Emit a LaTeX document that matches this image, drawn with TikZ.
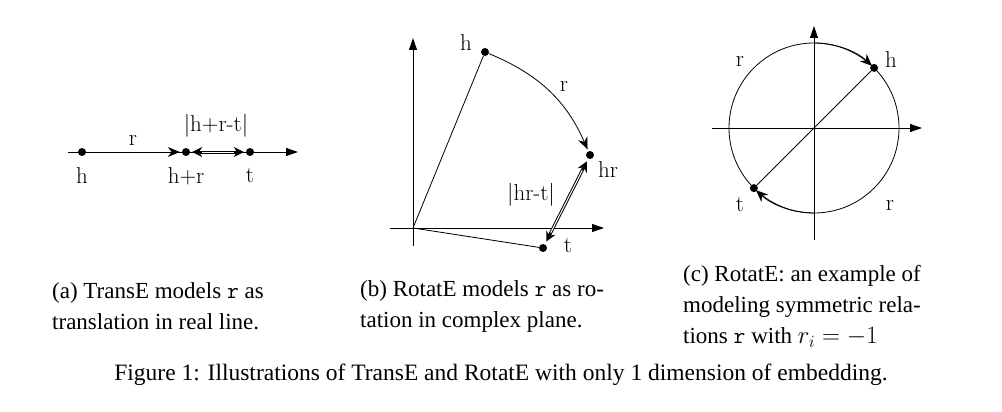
\documentclass[tikz,border=0pt]{standalone}
\usepackage{fontspec}
\newfontfamily\capf{Liberation Serif}
\usetikzlibrary{arrows.meta}
\begin{document}
\begin{tikzpicture}[x=1pt,y=-1pt,
  lab/.style={font=\fontsize{23}{25}\selectfont,inner sep=0pt},
  captxt/.style={font=\capf\fontsize{23}{31}\selectfont,inner sep=0pt,align=left,anchor=north west},
  pt/.style={circle,fill,inner sep=0pt,minimum size=8pt},
  ax/.style={line width=1pt,-{Triangle[length=12pt,width=8pt]}},
  tip/.style={-{Stealth[length=12pt,width=10pt]}}]
\useasboundingbox (0,0) rectangle (1002,412);
% (a)
\coordinate (a0) at (68,152); \coordinate (a1) at (298,152);
\draw[ax] (a0) -- (a1);
\node[pt] (h) at (82,152) {};
\node[pt] (hr) at (186,152) {};
\node[pt] (t) at (250,152) {};
\draw[line width=1pt,tip,shorten >=2pt] (h) -- (hr);
\draw[line width=3pt,{Stealth[length=10pt,width=10pt]}-{Stealth[length=10pt,width=10pt]},shorten <=2pt,shorten >=2pt] (hr) -- (t);
\draw[line width=1pt,white,shorten <=12pt,shorten >=12pt] (hr) -- (t);
\node[lab] at (133,140) {r};
\node[lab] at (216,126) {|h+r-t|};
\node[lab] at (82,176) {h};
\node[lab] at (186,176) {h+r};
\node[lab] at (250,176) {t};
% (b)
\coordinate (o) at (413,228);
\coordinate (by0) at (413,246); \coordinate (by1) at (413,38);
\coordinate (bx0) at (390,228); \coordinate (bx1) at (604,228);
\draw[ax] (by0) -- (by1);
\draw[ax] (bx0) -- (bx1);
\node[pt] (bh) at (485,52) {};
\node[pt] (bhr) at (590,155) {};
\node[pt] (bt) at (543,248) {};
\draw[line width=0.8pt] (o) -- (bh);
\draw[line width=0.8pt] (o) -- (bt);
\draw[line width=0.8pt,tip,shorten >=2pt] (bh) to[bend left=22] (bhr);
\draw[line width=3pt,{Stealth[length=10pt,width=10pt]}-{Stealth[length=10pt,width=10pt]},shorten <=3pt,shorten >=3pt] (bhr) -- (bt);
\draw[line width=1pt,white,shorten <=13pt,shorten >=13pt] (bhr) -- (bt);
\node[lab] at (466,43) {h};
\node[lab] at (564,86) {r};
\node[lab] at (608,170) {hr};
\node[lab] at (531,195) {|hr-t|};
\node[lab] at (568,246) {t};
% (c)
\coordinate (c) at (814,128);
\coordinate (cx0) at (712,128); \coordinate (cx1) at (922,128);
\coordinate (cy0) at (814,240); \coordinate (cy1) at (814,26);
\draw[ax,line width=0.8pt] (cx0) -- (cx1);
\draw[ax,line width=0.8pt] (cy0) -- (cy1);
\draw[line width=0.8pt] (c) circle (85);
\node[pt] (ch) at ([shift={(-45:85)}]c) {};
\node[pt] (ct) at ([shift={(135:85)}]c) {};
\draw[line width=0.8pt] (ch) -- (ct);
\draw[line width=0.8pt,tip] ([shift={(-90:85)}]c) arc[start angle=-90,end angle=-47,radius=85];
\draw[line width=0.8pt,tip] ([shift={(90:85)}]c) arc[start angle=90,end angle=133,radius=85];
\node[lab] at (740,61) {r};
\node[lab] at (891,60) {h};
\node[lab] at (740,205) {t};
\node[lab] at (890,205) {r};
% captions
\node[captxt] (ca) at (52,282) {(a) TransE models \texttt{r} as\\translation in real line.};
\node[captxt] (cb) at (360,280) {(b) RotatE models \texttt{r} as ro-\\tation in complex plane.};
\node[captxt] (cc) at (683,265) {(c) RotatE: an example of\\modeling symmetric rela-\\tions \texttt{r} with $r_i=-1$};
\node[font=\capf\fontsize{23.5}{26}\selectfont,inner sep=0pt] (cf) at (501,375) {Figure 1: Illustrations of TransE and RotatE with only 1 dimension of embedding.};
\end{tikzpicture}
\end{document}
